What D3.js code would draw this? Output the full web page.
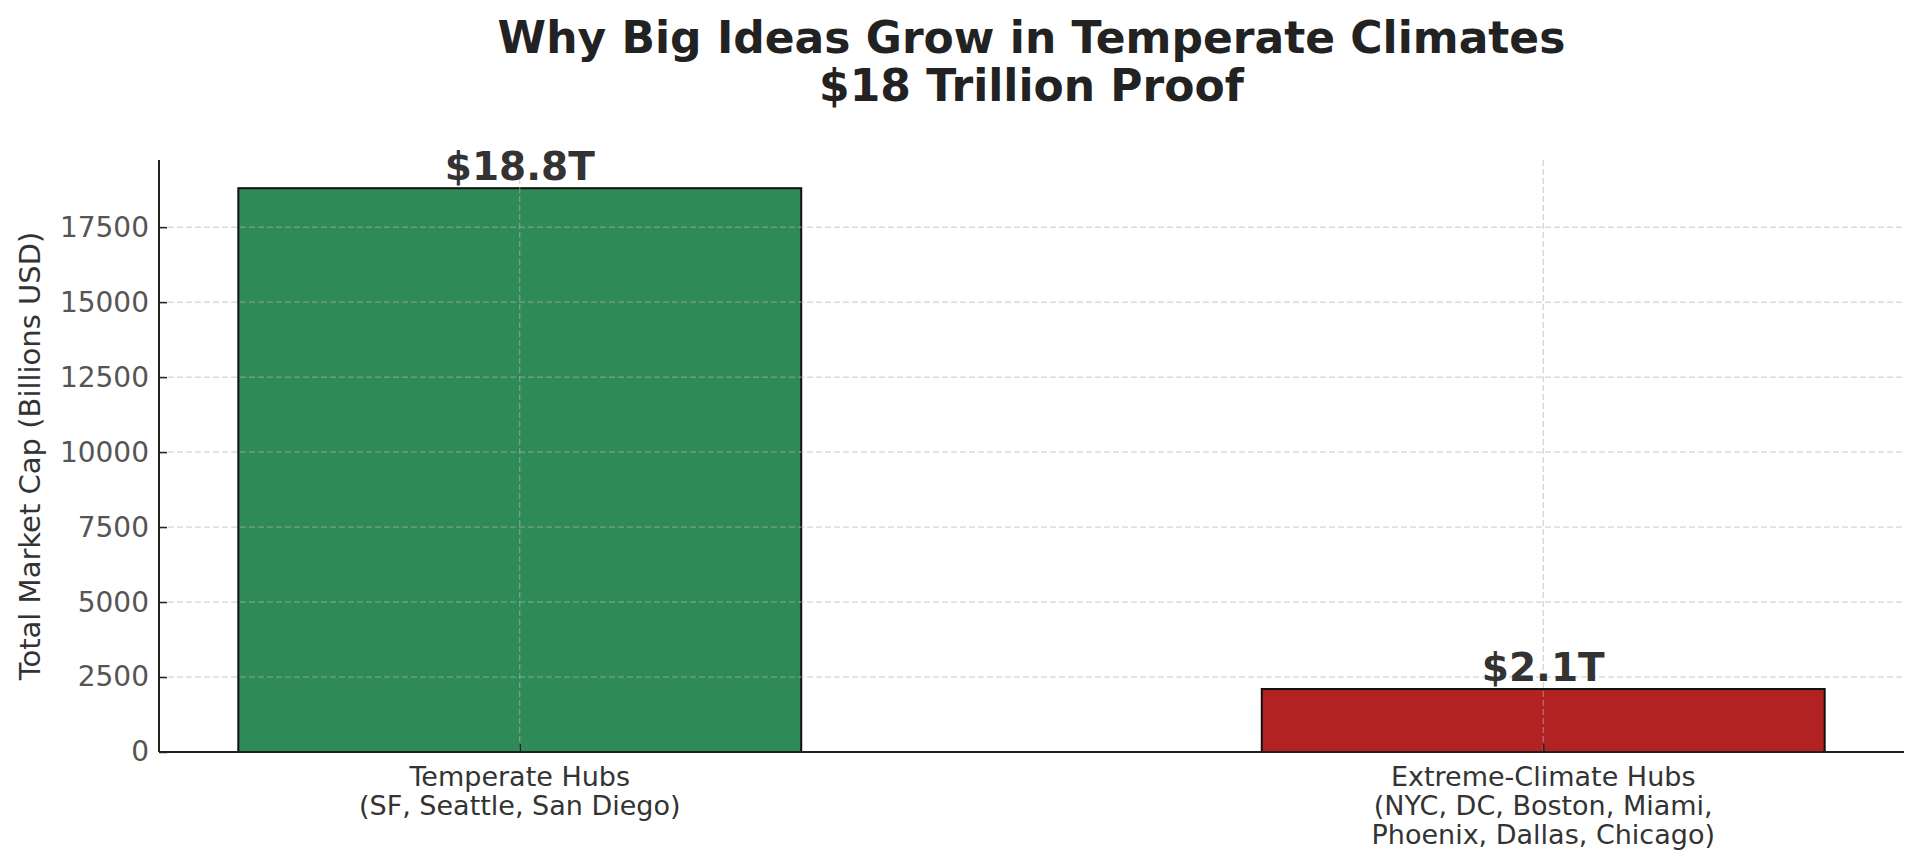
<!DOCTYPE html>
<html>
<head>
<meta charset="utf-8">
<script src="https://cdn.jsdelivr.net/npm/d3@7"></script>
<style>
  body { margin: 0; background: #fff; }
  text { font-family: "DejaVu Sans", sans-serif; }
</style>
</head>
<body>
<div id="chart"></div>
<script>
const width = 1920,
      height = 863;

const margin = { top: 160, right: 16, bottom: 111, left: 159 };

// data
const categories = [
  ["Temperate Hubs", "(SF, Seattle, San Diego)"],
  ["Extreme-Climate Hubs", "(NYC, DC, Boston, Miami,", "Phoenix, Dallas, Chicago)"]
];
const values = [18800, 2100];
const valueLabels = ["$18.8T", "$2.1T"];
const barColors = ["#2e8b57", "#b22222"];
const yTicks = [0, 2500, 5000, 7500, 10000, 12500, 15000, 17500];
const titleLines = ["Why Big Ideas Grow in Temperate Climates", "$18 Trillion Proof"];
const yLabel = "Total Market Cap (Billions USD)";

const barWidth = 0.55;
const iw = width - margin.left - margin.right,
      ih = height - margin.top - margin.bottom;

// matplotlib style margins: 5% on x, 5% on top of y
const x = d3.scaleLinear()
    .domain([-barWidth / 2 - 0.05 * (1 + barWidth), 1 + barWidth / 2 + 0.05 * (1 + barWidth)])
    .range([0, iw]);

const y = d3.scaleLinear()
    .domain([0, d3.max(values) * 1.05])
    .range([ih, 0]);

const svg = d3.select("#chart")
  .append("svg")
    .attr("width", width)
    .attr("height", height);

const g = svg.append("g")
    .attr("transform", `translate(${margin.left},${margin.top})`);

// bars
g.selectAll(".bar")
  .data(values)
  .enter()
  .append("rect")
    .attr("class", "bar")
    .attr("x", (d, i) => x(i - barWidth / 2))
    .attr("y", d => y(d))
    .attr("width", (d, i) => x(i + barWidth / 2) - x(i - barWidth / 2))
    .attr("height", d => y(0) - y(d))
    .attr("fill", (d, i) => barColors[i])
    .attr("stroke", "#111")
    .attr("stroke-width", 2);

// grid (drawn over the bars)
const grid = g.append("g")
    .attr("stroke", "#b0b0b0")
    .attr("stroke-opacity", 0.7)
    .attr("stroke-width", 1)
    .attr("stroke-dasharray", "6,3");

grid.selectAll(".hgrid")
  .data(yTicks.slice(1))
  .enter()
  .append("line")
    .attr("x1", 0)
    .attr("x2", iw)
    .attr("y1", d => y(d))
    .attr("y2", d => y(d));

grid.selectAll(".vgrid")
  .data(values)
  .enter()
  .append("line")
    .attr("x1", (d, i) => x(i))
    .attr("x2", (d, i) => x(i))
    .attr("y1", 0)
    .attr("y2", ih);

// y axis
const yAxis = g.append("g")
    .call(d3.axisLeft(y).tickValues(yTicks).tickSize(-8).tickPadding(10).tickFormat(d3.format("d")));
yAxis.select(".domain").attr("stroke", "#222").attr("stroke-width", 2)
    .attr("d", `M0,0V${ih}`);
yAxis.selectAll(".tick line").attr("stroke", "#222").attr("stroke-width", 1.5);
yAxis.selectAll(".tick text")
    .attr("fill", "#555")
    .style("font-size", "28px");

// x axis
const xAxis = g.append("g")
    .attr("transform", `translate(0,${ih})`)
    .call(d3.axisBottom(x).tickValues([0, 1]).tickSize(-8).tickFormat(""));
xAxis.select(".domain").attr("stroke", "#222").attr("stroke-width", 2)
    .attr("d", `M0,0H${iw}`);
xAxis.selectAll(".tick line").attr("stroke", "#222").attr("stroke-width", 1.5);

// category labels
categories.forEach((lines, i) => {
  const t = g.append("text")
      .attr("x", x(i))
      .attr("y", ih + 34)
      .attr("text-anchor", "middle")
      .attr("fill", "#333")
      .style("font-size", "27px");
  t.selectAll("tspan")
    .data(lines)
    .enter()
    .append("tspan")
      .attr("x", x(i))
      .attr("dy", (d, j) => j === 0 ? 0 : 29)
      .text(d => d);
});

// value labels
g.selectAll(".vlabel")
  .data(values)
  .enter()
  .append("text")
    .attr("x", (d, i) => x(i))
    .attr("y", d => y(d) - 8)
    .attr("text-anchor", "middle")
    .attr("fill", "#333")
    .style("font-size", "39px")
    .style("font-weight", "bold")
    .text((d, i) => valueLabels[i]);

// y label
svg.append("text")
    .attr("transform", `translate(40,${margin.top + ih / 2}) rotate(-90)`)
    .attr("text-anchor", "middle")
    .attr("fill", "#333")
    .style("font-size", "29px")
    .text(yLabel);

// title
svg.append("text")
    .attr("x", margin.left + iw / 2)
    .attr("y", 53)
    .attr("text-anchor", "middle")
    .attr("fill", "#222")
    .style("font-size", "44px")
    .style("font-weight", "bold")
  .selectAll("tspan")
  .data(titleLines)
  .enter()
  .append("tspan")
    .attr("x", margin.left + iw / 2)
    .attr("dy", (d, i) => i === 0 ? 0 : 48)
    .text(d => d);
</script>
</body>
</html>
